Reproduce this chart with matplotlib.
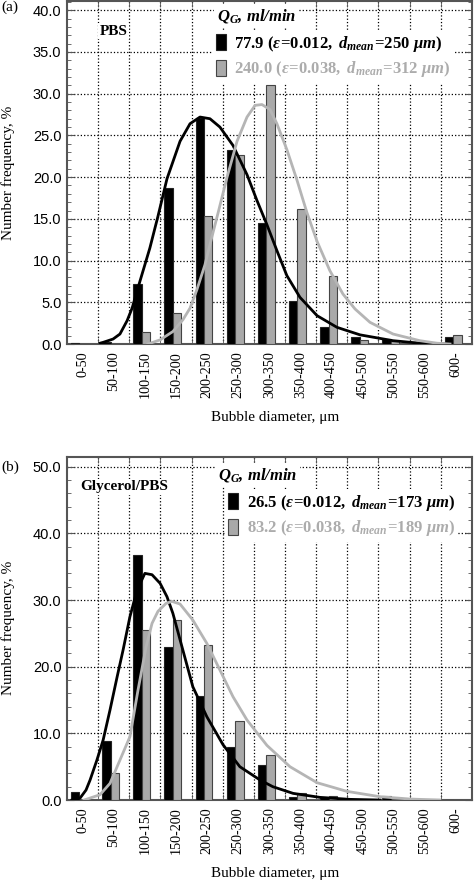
import numpy as np
import matplotlib
matplotlib.use("Agg")
from matplotlib import pyplot as plt
from matplotlib.ticker import MultipleLocator, FixedLocator, FormatStrFormatter

plt.rcParams['font.family'] = 'Liberation Serif'
plt.rcParams['mathtext.fontset'] = 'custom'
plt.rcParams['mathtext.it'] = 'Liberation Serif:italic:bold'
plt.rcParams['mathtext.rm'] = 'Liberation Serif:bold'
plt.rcParams['mathtext.bf'] = 'Liberation Serif:bold'

# bubble size classes, um
bins = ['0-50', '50-100', '100-150', '150-200', '200-250', '250-300', '300-350',
        '350-400', '400-450', '450-500', '500-550', '550-600', '600-']

# (a) PBS, number frequency %
pbs_779 = [0.1, 0.25, 7.25, 18.7, 27.1, 23.2, 14.5, 5.2, 2.0, 0.8, 0.55, 0.1, 0.9]
pbs_240 = [0.0, 0.0, 1.4, 3.7, 15.3, 22.6, 31.0, 16.2, 8.2, 0.5, 0.35, 0.1, 1.1]

# (b) Glycerol/PBS
gly_265 = [1.2, 8.9, 36.7, 22.9, 15.6, 8.0, 5.3, 0.5, 0.5, 0.0, 0.6, 0.0, 0.0]
gly_832 = [0.0, 4.0, 25.5, 27.0, 23.3, 11.9, 6.8, 1.0, 0.6, 0.0, 0.0, 0.0, 0.0]

# fitted distributions (x in class index units)
pbs_779_fit_x = [0.56, 0.66, 0.98, 1.20, 1.43, 1.59, 1.84, 2.16, 2.42, 2.71, 3.13, 3.45, 3.77,
                 4.09, 4.41, 4.83, 5.28, 5.60, 5.92, 6.24, 6.56, 6.98, 7.53, 8.17, 8.91,
                 9.97, 10.83, 11.63]
pbs_779_fit_y = [0.1, 0.2, 0.6, 1.2, 2.8, 4.3, 7.5, 11.5, 15.3, 19.8, 24.3, 26.4, 27.2,
                 27.0, 26.0, 23.8, 20.3, 17.2, 14.3, 11.2, 8.2, 5.6, 3.4, 2.0, 1.1,
                 0.4, 0.1, 0.0]
pbs_240_fit_x = [2.10, 2.49, 2.90, 3.22, 3.45, 3.67, 3.93, 4.15, 4.35, 4.64, 4.96, 5.28, 5.54,
                 5.76, 6.02, 6.24, 6.56, 6.88, 7.20, 7.53, 7.94, 8.36, 8.75, 9.23, 9.97,
                 10.83, 11.38, 11.80]
pbs_240_fit_y = [0.0, 0.5, 1.5, 2.9, 4.3, 6.5, 9.5, 12.8, 15.7, 20.0, 24.3, 27.2, 28.6,
                 28.7, 28.1, 26.4, 23.3, 19.7, 15.8, 12.3, 8.8, 6.0, 4.2, 2.6, 1.2,
                 0.4, 0.1, 0.0]
gly_265_fit_x = [-0.34, -0.08, 0.11, 0.24, 0.46, 0.66, 0.88, 1.11, 1.30, 1.52, 1.75, 2.00,
                 2.23, 2.49, 2.71, 2.90, 3.22, 3.54, 3.99, 4.51, 5.05, 5.70, 6.11, 6.76,
                 7.62, 8.59, 9.55]
gly_265_fit_y = [0.0, 0.3, 1.5, 3.0, 6.0, 9.0, 13.5, 18.5, 22.5, 27.5, 31.5, 34.0,
                 33.8, 32.5, 30.5, 28.0, 22.5, 17.0, 12.5, 8.3, 5.0, 3.0, 2.0, 1.0,
                 0.4, 0.1, 0.0]
gly_832_fit_x = [0.05, 0.56, 0.88, 1.20, 1.52, 1.78, 2.04, 2.23, 2.42, 2.68, 2.87, 3.13,
                 3.54, 3.99, 4.41, 4.83, 5.28, 5.92, 6.66, 7.53, 8.49, 9.55, 10.51, 11.47]
gly_832_fit_y = [0.0, 0.8, 2.5, 6.0, 9.5, 16.5, 23.0, 26.5, 28.3, 29.5, 29.8, 29.4,
                 27.0, 23.5, 19.5, 15.5, 12.0, 8.2, 5.0, 2.6, 1.3, 0.5, 0.15, 0.0]

GRAY = '#a9a9a9'
GRAY_LINE = '#b5b5b5'
GRAY_TEXT = '#acacac'


def draw_panel(ax, low, high, fit_low, fit_high, labels, name, name_x, ymax, step, minor,
               leg_anchor, title_xy):
    x = np.arange(len(bins))
    b1 = ax.bar(x - 0.235, low, width=0.27, color='black', edgecolor='#222222', lw=0.8, zorder=3)
    b2 = ax.bar(x + 0.035, high, width=0.27, color=GRAY, edgecolor='#444444', lw=0.8, zorder=3)
    ax.plot(fit_low[0], fit_low[1], color='black', lw=2.0, zorder=4, solid_joinstyle='round')
    ax.plot(fit_high[0], fit_high[1], color=GRAY_LINE, lw=2.0, zorder=4, solid_joinstyle='round')

    ax.set_xlim(-0.5, len(bins) - 0.5)
    ax.set_ylim(0, ymax)
    ax.set_xticks(x)
    ax.set_xticklabels(bins, rotation=90, fontsize=10.2)
    ax.xaxis.set_minor_locator(FixedLocator(np.arange(0.5, len(bins) - 1, 1)))
    ax.yaxis.set_major_locator(MultipleLocator(step))
    ax.yaxis.set_minor_locator(MultipleLocator(minor))
    ax.yaxis.set_major_formatter(FormatStrFormatter('%.1f'))
    for lbl in ax.get_yticklabels():
        lbl.set_fontfamily('Liberation Sans')
        lbl.set_fontsize(10.5)

    ax.tick_params(axis='x', which='major', length=0, pad=5)
    ax.tick_params(axis='x', which='minor', direction='in', length=4, top=True, color='#555555')
    ax.tick_params(axis='y', which='major', direction='in', length=5, right=True, pad=4,
                   color='#555555')
    ax.tick_params(axis='y', which='minor', direction='in', length=3, right=True, color='#555555')
    ax.set_axisbelow(True)
    ax.grid(which='minor', axis='x', ls=':', color='black', lw=0.9)
    ax.grid(which='major', axis='y', ls=':', color='black', lw=0.9)
    ax.grid(which='major', axis='x', visible=False)
    for s in ax.spines.values():
        s.set_color('#555555')
        s.set_linewidth(1.5)

    ax.set_xlabel('Bubble diameter, \u03bcm', fontsize=11)
    ax.xaxis.set_label_coords(0.515, -0.195)
    ax.set_ylabel('Number frequency, %', fontsize=11)
    ax.yaxis.set_label_coords(-0.128, 0.5)

    ax.text(name_x, 0.912, name, transform=ax.transAxes, fontsize=11, fontweight='bold',
            va='center', ha='left', zorder=6,
            bbox=dict(facecolor='white', edgecolor='none', pad=1))
    ax.text(title_xy[0], title_xy[1], r'$Q_G$, ml/min', transform=ax.transAxes,
            fontsize=12, fontweight='bold', fontstyle='italic', va='center', ha='left',
            zorder=6, bbox=dict(facecolor='white', edgecolor='none', pad=2))
    leg = ax.legend([b1, b2], labels, loc='upper left', bbox_to_anchor=leg_anchor,
                    frameon=True, fancybox=False, framealpha=1, edgecolor='none',
                    handlelength=0.6, handleheight=1.1, handletextpad=0.5,
                    labelspacing=0.35, borderpad=0.2, borderaxespad=0,
                    prop=dict(family='Liberation Serif', weight='bold', size=12))
    leg.get_texts()[1].set_color(GRAY_TEXT)
    leg.set_zorder(6)


fig = plt.figure(figsize=(4.74, 8.81), dpi=100)
ax1 = fig.add_axes([0.1414, 0.6095, 0.854, 0.3893])
ax2 = fig.add_axes([0.1414, 0.0919, 0.854, 0.3897])

draw_panel(ax1, pbs_779, pbs_240,
           (pbs_779_fit_x, pbs_779_fit_y), (pbs_240_fit_x, pbs_240_fit_y),
           [r'77.9 ($\mathit{\varepsilon\!=\!0.012,\ d_{mean}\!=\!250\ \mu m}$)',
            r'240.0 ($\mathit{\varepsilon\!=\!0.038,\ d_{mean}\!=\!312\ \mu m}$)'],
           'PBS', 0.081, 41.1, 5, 1, (0.36, 0.915), (0.37, 0.957))
draw_panel(ax2, gly_265, gly_832,
           (gly_265_fit_x, gly_265_fit_y), (gly_832_fit_x, gly_832_fit_y),
           [r'26.5 ($\mathit{\varepsilon\!=\!0.012,\ d_{mean}\!=\!173\ \mu m}$)',
            r'83.2 ($\mathit{\varepsilon\!=\!0.038,\ d_{mean}\!=\!189\ \mu m}$)'],
           'Glycerol/PBS', 0.032, 51.5, 10, 2, (0.39, 0.905), (0.373, 0.947))

fig.text(0.003, 0.992, '(a)', fontsize=11, va='center', ha='left')
fig.text(0.003, 0.470, '(b)', fontsize=11, va='center', ha='left')

fig.savefig('out.png', dpi=100)
